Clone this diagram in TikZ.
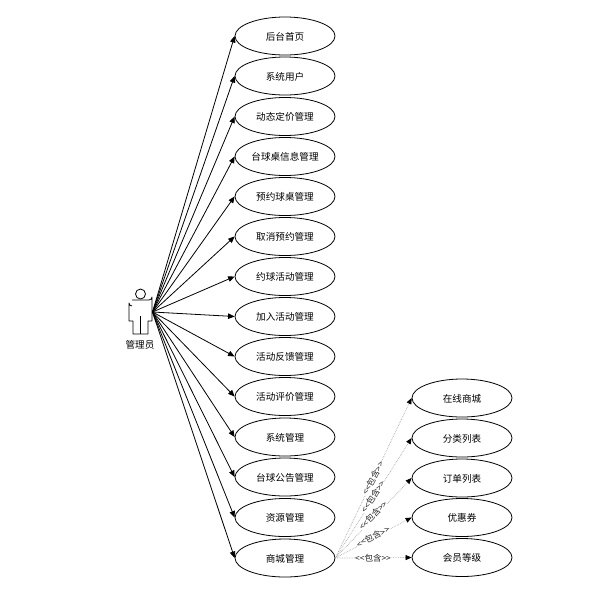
\documentclass[tikz,border=0pt]{standalone}
\usepackage{fontspec}
\setmainfont{Noto Sans CJK SC}
\usetikzlibrary{arrows.meta,shapes.geometric}
\newcommand{\incltext}{<{}<包含>{}>}
\tikzset{
  usecase/.style={draw=black,fill=white,ellipse,minimum width=100pt,minimum height=38pt,inner sep=0pt,line width=0.8pt,font=\fontsize{9.6}{11}\selectfont,text height=8.3pt,text depth=0pt},
  assoc/.style={draw=black,line width=0.8pt,-{Triangle[length=6.5pt,width=5.5pt]}},
  incl/.style={draw=black!35,line width=0.7pt,densely dotted,-{Triangle[length=6pt,width=5pt,color=black,fill=black,sep=0pt]}},
  incllabel/.style={font=\fontsize{8.5}{10}\selectfont,text=black!85,fill=white,inner sep=0.3pt},
  actorline/.style={draw=black,line width=0.8pt,line join=round},
  actorname/.style={font=\fontsize{9.6}{11}\selectfont,inner sep=0pt}
}
\begin{document}
\begin{tikzpicture}[x=1pt,y=-1pt]
\useasboundingbox (0,0) rectangle (609,595);
% actor
\draw[actorline] (140.5,294) circle (5);
\draw[actorline] (132,300) -- (149,300) arc[start angle=90,end angle=0,radius=3] -- (152,321) -- (148,321) -- (148,334) -- (133,334) -- (133,321) -- (129,321) -- (129,303) arc[start angle=180,end angle=90,radius=3];
\draw[actorline] (140.5,316) -- (140.5,334);
\coordinate (actor) at (152.5,312);
\node[actorname] (actorlabel) at (140,344.5) {管理员};
% use cases
\node[usecase] (u1) at (285,36) {后台首页};
\node[usecase] (u2) at (285,76) {系统用户};
\node[usecase] (u3) at (285,116.5) {动态定价管理};
\node[usecase] (u4) at (285,156.5) {台球桌信息管理};
\node[usecase] (u5) at (285,196.5) {预约球桌管理};
\node[usecase] (u6) at (285,236.5) {取消预约管理};
\node[usecase] (u7) at (285,276.5) {约球活动管理};
\node[usecase] (u8) at (285,316.5) {加入活动管理};
\node[usecase] (u9) at (285,356.5) {活动反馈管理};
\node[usecase] (u10) at (285,396.5) {活动评价管理};
\node[usecase] (u11) at (285,437) {系统管理};
\node[usecase] (u12) at (285,477) {台球公告管理};
\node[usecase] (u13) at (285,517.5) {资源管理};
\node[usecase] (u14) at (285,558) {商城管理};
\node[usecase] (s1) at (462,398) {在线商城};
\node[usecase] (s2) at (462,438) {分类列表};
\node[usecase] (s3) at (462,478) {订单列表};
\node[usecase] (s4) at (462,517.5) {优惠券};
\node[usecase] (s5) at (462,557.5) {会员等级};
% associations
\foreach \n in {1,...,14} \draw[assoc] (actor) -- (u\n.west);
% includes
\draw[incl] (u14.east) -- (s1.west);
\draw[incl] (u14.east) -- (s2.west);
\draw[incl] (u14.east) -- (s3.west);
\draw[incl] (u14.east) -- (s4.west);
\draw[incl] (u14.east) -- (s5.west);
\node[incllabel,rotate=62] (l1) at (373,478) {\incltext};
\node[incllabel,rotate=57] (l2) at (373,497) {\incltext};
\node[incllabel,rotate=46] (l3) at (373,515.5) {\incltext};
\node[incllabel,rotate=27] (l4) at (373,537) {\incltext};
\node[incllabel] (l5) at (373,558) {\incltext};
\end{tikzpicture}
\end{document}
